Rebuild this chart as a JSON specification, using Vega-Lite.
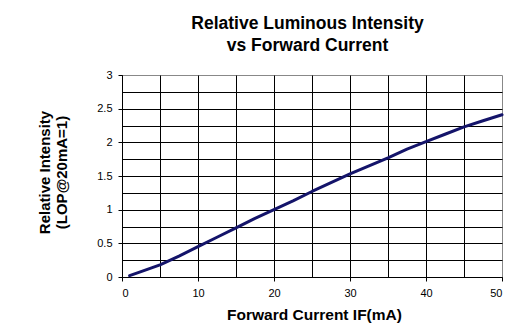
{
  "$schema": "https://vega.github.io/schema/vega-lite/v6.json",
  "autosize": "none",
  "width": 380,
  "height": 202,
  "padding": {"left": 122, "top": 75, "right": 27, "bottom": 59},
  "background": "white",
  "config": {
    "view": {"stroke": "#888888", "strokeWidth": 1},
    "font": "Liberation Sans"
  },
  "title": {
    "text": ["Relative Luminous Intensity", "vs Forward Current"],
    "font": "Liberation Sans",
    "fontSize": 17.5,
    "fontWeight": "bold",
    "color": "black",
    "anchor": "middle",
    "lineHeight": 22,
    "baseline": "bottom",
    "dx": -4.5,
    "dy": 17,
    "offset": 14
  },
  "data": {
    "values": [
      {"current": 1, "intensity": 0.02},
      {"current": 2.5, "intensity": 0.08},
      {"current": 5, "intensity": 0.18},
      {"current": 7.5, "intensity": 0.31},
      {"current": 10, "intensity": 0.45},
      {"current": 12.5, "intensity": 0.59},
      {"current": 15, "intensity": 0.73},
      {"current": 17.5, "intensity": 0.87},
      {"current": 20, "intensity": 1.0},
      {"current": 22.5, "intensity": 1.13},
      {"current": 25, "intensity": 1.27},
      {"current": 27.5, "intensity": 1.4},
      {"current": 30, "intensity": 1.53},
      {"current": 32.5, "intensity": 1.65},
      {"current": 35, "intensity": 1.77},
      {"current": 37.5, "intensity": 1.9},
      {"current": 40, "intensity": 2.01},
      {"current": 42.5, "intensity": 2.12},
      {"current": 45, "intensity": 2.23},
      {"current": 47.5, "intensity": 2.32},
      {"current": 50, "intensity": 2.41}
    ]
  },
  "mark": {"type": "line", "color": "#14146a", "strokeWidth": 3, "strokeJoin": "round", "strokeCap": "round"},
  "encoding": {
    "x": {
      "field": "current",
      "type": "quantitative",
      "scale": {"domain": [0, 50], "nice": false},
      "axis": {
        "title": "Forward Current IF(mA)",
        "titleFont": "Liberation Sans",
        "titleFontSize": 15.5,
        "titleFontWeight": "bold",
        "titleColor": "black",
        "titleX": 192,
        "titleY": 37,
        "titleAlign": "center",
        "titleBaseline": "middle",
        "values": [0, 5, 10, 15, 20, 25, 30, 35, 40, 45, 50],
        "labelExpr": "datum.value % 10 == 0 ? '' + datum.value : ''",
        "labelFont": "Liberation Sans",
        "labelFontSize": 11,
        "labelColor": "black",
        "labelPadding": 6,
        "tickSize": 4,
        "tickColor": "black",
        "tickOpacity": {"condition": {"test": "datum.value % 10 == 0", "value": 1}, "value": 0},
        "domainColor": "black",
        "domainWidth": 1,
        "grid": true,
        "gridColor": "black",
        "gridWidth": 1,
        "gridOpacity": {"condition": {"test": "datum.value >= 50", "value": 0}, "value": 1}
      }
    },
    "y": {
      "field": "intensity",
      "type": "quantitative",
      "scale": {"domain": [0, 3], "nice": false},
      "axis": {
        "title": ["Relative Intensity", "(LOP@20mA=1)"],
        "titleFont": "Liberation Sans",
        "titleFontSize": 15,
        "titleFontWeight": "bold",
        "titleColor": "black",
        "titleAngle": 270,
        "titleX": -78,
        "titleY": 97,
        "titleAlign": "center",
        "titleBaseline": "middle",
        "titleLineHeight": 17,
        "values": [0, 0.25, 0.5, 0.75, 1, 1.25, 1.5, 1.75, 2, 2.25, 2.5, 2.75, 3],
        "labelExpr": "datum.value % 0.5 == 0 ? '' + datum.value : ''",
        "labelFont": "Liberation Sans",
        "labelFontSize": 11,
        "labelColor": "black",
        "labelPadding": 6,
        "tickSize": 4,
        "tickColor": "black",
        "tickOpacity": {"condition": {"test": "datum.value % 0.5 == 0", "value": 1}, "value": 0},
        "domainColor": "black",
        "domainWidth": 1,
        "grid": true,
        "gridColor": "black",
        "gridWidth": 1,
        "gridOpacity": {"condition": {"test": "datum.value >= 3", "value": 0}, "value": 1}
      }
    }
  }
}
